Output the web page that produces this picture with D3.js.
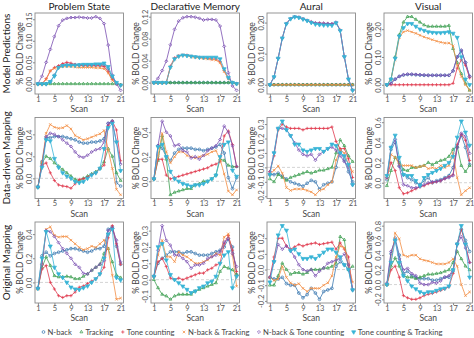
<!DOCTYPE html>
<html>
<head>
<meta charset="utf-8">
<script src="https://cdn.jsdelivr.net/npm/d3@7"></script>
<style>
  body { margin: 0; background: #fff; }
  svg { display: block; font-family: Lato, 'Open Sans', sans-serif; }
</style>
</head>
<body>
<div id="chart"></div>
<script>
var scans = d3.range(1, 22)
var xTicks = [1, 5, 9, 13, 17, 21]

var seriesNames = [
  'N-back',
  'Tracking',
  'Tone counting',
  'N-back & Tracking',
  'N-back & Tone counting',
  'Tone counting & Tracking'
]
var seriesColors = ['#3b78b0', '#3d9f52', '#e03a4e', '#f38d42', '#7a4fb1', '#38b4d6']

var resources = ['Problem State', 'Declarative Memory', 'Aural', 'Visual']
var mappings = ['Model Predictions', 'Data-driven Mapping', 'Original Mapping']

// every panel: one row per series, in seriesNames order, scans 1..21
var modelProblemState = [
  [0, 0, 0, 0.005, 0.02, 0.04, 0.043, 0.044, 0.044, 0.044, 0.044, 0.044, 0.044, 0.044, 0.044, 0.044, 0.044, 0.035, 0.015, 0.002, -0.003],
  [0, 0, 0, 0, 0, 0, 0, 0, 0, 0, 0, 0, 0, 0, 0, 0, 0, 0, 0, 0, -0.002],
  [0, 0, 0.012, 0.03, 0.038, 0.042, 0.047, 0.05, 0.048, 0.045, 0.043, 0.042, 0.042, 0.042, 0.042, 0.042, 0.04, 0.028, 0.01, 0, -0.003],
  [0, 0, 0.01, 0.03, 0.036, 0.038, 0.04, 0.04, 0.04, 0.039, 0.038, 0.038, 0.038, 0.038, 0.037, 0.037, 0.035, 0.025, 0.008, 0, -0.003],
  [0, 0.018, 0.05, 0.08, 0.11, 0.135, 0.148, 0.152, 0.154, 0.154, 0.155, 0.154, 0.153, 0.153, 0.156, 0.152, 0.14, 0.09, 0.02, 0, -0.015],
  [0, 0, 0, 0.005, 0.018, 0.038, 0.042, 0.043, 0.043, 0.043, 0.044, 0.045, 0.045, 0.045, 0.046, 0.046, 0.048, 0.04, 0.018, 0.003, -0.003]
]
var modelDeclarative = [
  [0, 0, 0, 0, 0, 0, 0, 0, 0, 0, 0, 0, 0, 0, 0, 0, 0, 0, 0, 0, -0.002],
  [0, 0, 0, 0, 0, 0, 0, 0, 0, 0, 0, 0, 0, 0, 0, 0, 0, 0, 0, 0, -0.002],
  [0, 0, 0, 0, 0.03, 0.045, 0.049, 0.05, 0.05, 0.048, 0.047, 0.046, 0.045, 0.044, 0.043, 0.043, 0.038, 0.022, 0.008, 0, -0.002],
  [0, 0, 0, 0, 0.028, 0.043, 0.048, 0.05, 0.049, 0.047, 0.046, 0.045, 0.044, 0.043, 0.042, 0.041, 0.036, 0.02, 0.007, 0, -0.002],
  [0, 0.008, 0.022, 0.039, 0.069, 0.097, 0.112, 0.118, 0.12, 0.12, 0.119, 0.117, 0.114, 0.115, 0.115, 0.114, 0.103, 0.066, 0.018, -0.006, -0.014],
  [0, 0, 0, 0, 0.028, 0.043, 0.048, 0.05, 0.049, 0.048, 0.047, 0.046, 0.046, 0.046, 0.046, 0.046, 0.043, 0.025, 0.009, 0, -0.002]
]
var modelAural = [
  [0, 0, 0, 0, 0, 0, 0, 0, 0, 0, 0, 0, 0, 0, 0, 0, 0, 0, 0, 0, 0],
  [0, 0, 0, 0, 0, 0, 0, 0, 0, 0, 0, 0, 0, 0, 0, 0, 0, 0, 0, 0, 0],
  [0, 0.025, 0.085, 0.15, 0.197, 0.213, 0.219, 0.217, 0.212, 0.207, 0.202, 0.198, 0.198, 0.197, 0.197, 0.196, 0.2, 0.175, 0.09, 0.018, -0.018],
  [0, 0, 0, 0, 0, 0, 0, 0, 0, 0, 0, 0, 0, 0, 0, 0, 0, 0, 0, 0, 0],
  [0, 0.025, 0.085, 0.15, 0.197, 0.213, 0.219, 0.217, 0.212, 0.207, 0.202, 0.199, 0.198, 0.198, 0.197, 0.196, 0.201, 0.175, 0.09, 0.018, -0.018],
  [0, 0.025, 0.085, 0.15, 0.196, 0.212, 0.218, 0.216, 0.211, 0.206, 0.2, 0.195, 0.193, 0.192, 0.192, 0.191, 0.199, 0.174, 0.09, 0.018, -0.018]
]
var modelVisual = [
  [0, 0.005, 0.02, 0.03, 0.035, 0.037, 0.037, 0.036, 0.035, 0.034, 0.034, 0.034, 0.034, 0.034, 0.034, 0.034, 0.05, 0.1, 0.122, 0.08, 0.03],
  [0, 0.02, 0.1, 0.18, 0.225, 0.245, 0.245, 0.235, 0.225, 0.215, 0.21, 0.21, 0.21, 0.21, 0.21, 0.213, 0.13, 0.08, 0.04, 0.005, -0.02],
  [0, 0, 0, 0, 0, 0, 0, 0, 0, 0, 0, 0, 0, 0, 0, 0, 0.005, 0.06, 0.09, 0.07, 0.025],
  [0, 0.02, 0.09, 0.17, 0.19, 0.195, 0.19, 0.185, 0.178, 0.172, 0.167, 0.162, 0.157, 0.153, 0.15, 0.15, 0.14, 0.07, 0.03, 0, -0.02],
  [0, 0.005, 0.02, 0.03, 0.036, 0.038, 0.038, 0.037, 0.036, 0.035, 0.034, 0.034, 0.034, 0.034, 0.034, 0.034, 0.05, 0.1, 0.125, 0.08, 0.03],
  [0, 0.02, 0.095, 0.175, 0.205, 0.22, 0.22, 0.21, 0.2, 0.195, 0.19, 0.188, 0.187, 0.187, 0.188, 0.19, 0.185, 0.17, 0.1, 0.02, 0]
]

var dataProblemState = [
  [-0.08, 0.15, 0.37, 0.37, 0.38, 0.38, 0.38, 0.37, 0.36, 0.35, 0.33, 0.32, 0.32, 0.33, 0.33, 0.34, 0.36, 0.5, 0.52, -0.04, -0.07],
  [-0.08, 0.14, 0.2, 0.18, 0.14, 0.11, 0.08, 0.05, 0.02, -0.01, -0.02, 0, 0.02, 0.04, 0.06, 0.09, 0.15, 0.27, 0.2, 0.05, -0.02],
  [-0.08, 0.12, 0.14, 0.05, -0.02, -0.06, -0.07, -0.075, -0.09, -0.05, -0.01, -0.003, 0.01, 0.035, 0.05, 0.09, 0.12, 0.48, 0.52, 0.44, 0.16],
  [-0.08, 0.15, 0.41, 0.49, 0.465, 0.455, 0.46, 0.48, 0.45, 0.39, 0.37, 0.35, 0.36, 0.375, 0.39, 0.405, 0.435, 0.26, 0.09, -0.1, -0.15],
  [-0.08, 0.12, 0.38, 0.41, 0.4, 0.38, 0.35, 0.32, 0.29, 0.24, 0.2, 0.19, 0.21, 0.24, 0.26, 0.27, 0.33, 0.5, 0.52, 0.33, 0.13],
  [-0.08, 0.1, 0.35, 0.34, 0.18, 0.1, 0.05, 0.02, 0, -0.03, -0.04, -0.03, 0, 0.03, 0.05, 0.09, 0.27, 0.46, 0.5, 0.33, 0.07]
]
var dataDeclarative = [
  [0.02, 0.29, 0.27, 0.2, 0.17, 0.23, 0.26, 0.27, 0.27, 0.27, 0.26, 0.26, 0.25, 0.26, 0.27, 0.28, 0.3, 0.23, 0.03, -0.06, 0.03],
  [0.02, 0.17, 0.37, 0.18, -0.11, -0.09, -0.08, -0.07, -0.06, -0.06, -0.03, -0.02, 0, 0, 0.02, 0.05, 0.18, 0.17, 0.13, 0.12, 0.12],
  [0.02, 0.18, 0.18, 0.05, 0.02, 0.03, 0.04, 0.05, 0.06, 0.07, 0.08, 0.09, 0.1, 0.11, 0.13, 0.14, 0.16, 0.37, 0.41, 0.3, 0.12],
  [0.02, 0.21, 0.39, 0.24, 0.15, 0.2, 0.24, 0.24, 0.21, 0.2, 0.19, 0.2, 0.21, 0.22, 0.24, 0.25, 0.18, 0.06, -0.08, -0.11, -0.07],
  [0.02, 0.29, 0.49, 0.4, 0.37, 0.29, 0.3, 0.25, 0.24, 0.19, 0.2, 0.18, 0.21, 0.25, 0.27, 0.29, 0.34, 0.45, 0.4, 0.29, 0.12],
  [0.02, 0.28, 0.3, 0.2, 0.08, 0.02, 0, -0.02, -0.03, -0.04, -0.03, -0.03, -0.02, 0, 0.02, 0.05, 0.2, 0.3, 0.32, 0.09, 0.04]
]
var dataAural = [
  [-0.05, -0.05, -0.04, -0.06, -0.08, -0.1, -0.11, -0.12, -0.13, -0.11, -0.09, -0.1, -0.15, -0.12, -0.11, -0.1, 0, 0.12, 0.05, -0.03, -0.1],
  [-0.08, -0.1, -0.05, -0.07, -0.09, -0.07, -0.06, -0.05, -0.04, -0.03, -0.04, -0.03, -0.02, -0.02, -0.01, 0, 0.1, 0.19, 0.15, 0.08, 0.04],
  [-0.03, 0.08, 0.26, 0.3, 0.28, 0.27, 0.27, 0.27, 0.26, 0.27, 0.27, 0.27, 0.27, 0.27, 0.27, 0.28, 0.18, 0.13, 0.13, 0.06, -0.07],
  [-0.05, -0.02, 0.01, -0.04, -0.14, -0.16, -0.15, -0.15, -0.15, -0.16, -0.17, -0.19, -0.16, -0.15, -0.12, -0.1, 0.05, 0.12, 0.1, 0.02, -0.03],
  [-0.03, 0.1, 0.27, 0.27, 0.26, 0.22, 0.17, 0.12, 0.09, 0.08, 0.09, 0.05, 0.09, 0.11, 0.13, 0.14, 0.12, 0.08, 0.04, 0, -0.12],
  [-0.05, 0.1, 0.27, 0.32, 0.26, 0.22, 0.16, 0.16, 0.12, 0.11, 0.12, 0.13, 0.13, 0.11, 0.13, 0.16, 0.15, 0.1, 0.08, 0.02, -0.12]
]
var dataVisual = [
  [0.03, 0.33, 0.4, 0.17, 0.08, 0.05, 0.03, 0, -0.02, 0.02, 0.05, 0, 0.02, 0.03, 0.05, 0.07, 0.15, 0.35, 0.47, 0.35, 0.18],
  [-0.03, 0.12, 0.25, 0.2, 0.13, 0.12, 0.15, 0.15, 0.16, 0.17, 0.2, 0.18, 0.2, 0.22, 0.23, 0.26, 0.33, 0.36, 0.17, 0.11, 0.17],
  [0.05, 0.2, 0.12, -0.05, -0.11, -0.1, -0.08, -0.06, -0.04, -0.03, -0.01, 0, 0.01, 0.02, 0.04, 0.06, 0.08, 0.38, 0.48, 0.42, 0.22],
  [0.05, 0.28, 0.25, 0.18, 0.17, 0.17, 0.17, 0.15, 0.16, 0.17, 0.14, 0.15, 0.14, 0.17, 0.15, 0.17, 0.3, 0.05, -0.12, -0.08, -0.05],
  [0.05, 0.35, 0.43, 0.16, -0.02, -0.03, -0.05, -0.05, -0.04, -0.02, 0, 0.01, 0.01, 0.02, 0.04, 0.05, 0.07, 0.35, 0.49, 0.46, 0.29],
  [0.07, 0.35, 0.47, 0.25, 0.08, 0.07, 0.07, 0.02, -0.03, 0.05, 0.08, 0.1, 0.12, 0.14, 0.17, 0.2, 0.26, 0.45, 0.61, 0.5, 0.37]
]

var origProblemState = [
  [-0.05, 0.22, 0.25, 0.22, 0.24, 0.25, 0.26, 0.27, 0.28, 0.28, 0.27, 0.26, 0.25, 0.26, 0.28, 0.28, 0.3, 0.44, 0.46, 0.3, 0.15],
  [-0.05, 0.125, 0.21, 0.14, 0.055, 0.045, 0.045, 0.05, 0.045, 0.03, 0.03, 0.05, 0.07, 0.1, 0.125, 0.15, 0.24, 0.28, 0.17, 0.06, 0.04],
  [-0.05, 0.11, 0.14, 0, -0.055, -0.11, -0.125, -0.11, -0.11, -0.08, -0.04, -0.03, -0.01, 0.01, 0.03, 0.07, 0.125, 0.37, 0.47, 0.32, 0.15],
  [-0.055, 0.15, 0.44, 0.46, 0.39, 0.375, 0.38, 0.38, 0.35, 0.32, 0.29, 0.27, 0.28, 0.3, 0.29, 0.32, 0.35, 0.28, 0.06, -0.14, -0.13],
  [-0.05, 0.15, 0.43, 0.42, 0.38, 0.33, 0.28, 0.24, 0.2, 0.15, 0.125, 0.075, 0.07, 0.1, 0.125, 0.15, 0.18, 0.43, 0.45, 0.35, 0.17],
  [-0.05, 0.2, 0.42, 0.3, 0.125, 0.07, 0.04, 0, -0.04, -0.055, -0.06, -0.045, -0.03, 0, 0.03, 0.07, 0.2, 0.4, 0.44, 0.04, 0.02]
]
var origDeclarative = [
  [0.02, 0.1, 0.13, 0.15, 0.17, 0.17, 0.17, 0.16, 0.17, 0.17, 0.16, 0.15, 0.15, 0.15, 0.16, 0.17, 0.18, 0.2, 0.25, 0.2, 0.03],
  [0, -0.05, -0.09, -0.1, -0.12, -0.1, -0.09, -0.09, -0.09, -0.09, -0.07, -0.06, -0.05, -0.04, -0.03, -0.02, 0.05, 0.08, 0.07, 0.06, 0.03],
  [0.02, 0.11, 0.13, 0.08, 0.01, 0, 0.01, 0, 0.01, 0.02, 0.03, 0.04, 0.04, 0.06, 0.07, 0.09, 0.1, 0.22, 0.27, 0.18, 0.05],
  [0.02, 0.15, 0.24, 0.14, 0.14, 0.11, 0.17, 0.15, 0.14, 0.12, 0.1, 0.1, 0.11, 0.12, 0.14, 0.16, 0.15, 0.26, 0.28, 0.15, -0.04],
  [0.02, 0.18, 0.33, 0.24, 0.21, 0.15, 0.15, 0.13, 0.11, 0.07, 0.09, 0.09, 0.1, 0.13, 0.14, 0.15, 0.17, 0.23, 0.25, 0.16, 0.08],
  [0.02, 0.2, 0.22, 0.12, 0.03, 0, -0.02, -0.04, -0.06, -0.08, -0.07, -0.05, -0.04, -0.02, -0.01, 0.02, 0.1, 0.15, 0.17, -0.05, 0.02]
]
var origAural = [
  [-0.05, -0.06, -0.06, -0.05, -0.09, -0.1, -0.1, -0.15, -0.18, -0.16, -0.12, -0.15, -0.19, -0.14, -0.13, -0.12, 0.02, 0.05, 0.03, 0, -0.13],
  [-0.1, -0.1, -0.04, 0.04, 0, -0.03, -0.02, -0.02, -0.03, -0.02, 0, 0, 0, 0.01, 0.01, 0.02, 0.04, 0.21, 0.19, 0, 0.02],
  [-0.05, 0.08, 0.2, 0.2, 0.15, 0.13, 0.145, 0.16, 0.15, 0.16, 0.165, 0.17, 0.16, 0.165, 0.17, 0.175, 0.13, 0.17, 0.13, 0.08, -0.13],
  [-0.05, -0.07, -0.06, 0.02, -0.05, -0.085, -0.1, -0.09, -0.12, -0.14, -0.12, -0.12, -0.12, -0.1, -0.085, -0.04, 0.08, 0.15, 0.14, 0.03, -0.08],
  [-0.05, 0.05, 0.16, 0.13, 0.15, 0.12, 0.08, 0.03, 0, -0.01, 0, -0.04, -0.01, 0.01, 0.04, 0.05, 0.06, 0.07, 0.1, 0.03, -0.13],
  [-0.08, 0.05, 0.22, 0.28, 0.25, 0.12, 0.13, 0.1, 0.07, 0.07, 0.08, 0.07, 0.09, 0.11, 0.13, 0.13, 0.11, 0.08, 0.03, 0, -0.13]
]
var origVisual = [
  [0, 0.42, 0.63, 0.4, 0.15, 0.18, 0.12, 0.1, 0.08, 0.08, 0.08, 0.06, 0.06, 0.08, 0.1, 0.1, 0.18, 0.55, 0.75, 0.6, 0.45],
  [0, 0.25, 0.36, 0.25, 0.12, 0.1, 0.1, 0.08, 0.1, 0.12, 0.14, 0.14, 0.15, 0.16, 0.18, 0.2, 0.3, 0.45, 0.35, 0.25, 0.2],
  [0, 0.2, 0.25, 0.1, -0.15, -0.18, -0.2, -0.2, -0.18, -0.15, -0.13, -0.12, -0.1, -0.08, -0.06, -0.03, 0.15, 0.55, 0.75, 0.55, 0.3],
  [0, 0.3, 0.7, 0.62, 0.4, 0.38, 0.4, 0.4, 0.35, 0.33, 0.32, 0.3, 0.28, 0.28, 0.28, 0.3, 0.35, 0.25, 0, -0.15, -0.1],
  [0.02, 0.45, 0.6, 0.35, 0.2, 0.22, 0.15, 0.12, 0.02, 0, 0, 0.03, 0.02, 0.05, 0.1, 0.12, 0.2, 0.55, 0.65, 0.5, 0.3],
  [0, 0.3, 0.6, 0.3, 0.12, 0.05, -0.02, -0.06, -0.1, -0.12, -0.1, -0.1, -0.08, -0.06, -0.05, -0.02, 0.2, 0.55, 0.8, 0.55, 0.1]
]

var yTicks = [
  [[0, 0.05, 0.1, 0.15], [0, 0.04, 0.08, 0.12], [0, 0.1, 0.2], [0, 0.1, 0.2]],
  [[0, 0.2, 0.4], [0, 0.2, 0.4], [-0.2, -0.1, 0, 0.1, 0.2, 0.3], [0, 0.2, 0.4, 0.6]],
  [[0, 0.2, 0.4], [-0.1, 0, 0.1, 0.2, 0.3], [-0.2, -0.1, 0, 0.1, 0.2], [-0.2, 0, 0.2, 0.4, 0.6, 0.8]]
]
var yFormats = ['.2f', '.1f', '.1f']

var panels = [
  [modelProblemState, modelDeclarative, modelAural, modelVisual],
  [dataProblemState, dataDeclarative, dataAural, dataVisual],
  [origProblemState, origDeclarative, origAural, origVisual]
]

var width = 474
var height = 338
var colLeft = [35, 151, 267, 384]
var rowTop = [13, 117.5, 222]
var panelW = 88.5
var panelH = 81

var svg = d3
  .select('#chart')
  .append('svg')
  .attr('width', width)
  .attr('height', height)

var symbolTypes = [
  d3.symbolCircle,
  d3.symbolTriangle2 || d3.symbolTriangle,
  d3.symbolPlus || d3.symbolCross,
  d3.symbolTimes || d3.symbolCross,
  d3.symbolDiamond2 || d3.symbolDiamond,
  d3.symbolTriangle
]
var symbolFilled = [false, false, false, false, false, true]
var symbolSizes = [6, 6, 4, 5, 6, 7]

function drawMarker(sel, i) {
  sel
    .attr('d', d3.symbol().type(symbolTypes[i]).size(symbolSizes[i]))
    .attr('fill', symbolFilled[i] ? seriesColors[i] : 'none')
    .attr('stroke', seriesColors[i])
    .attr('stroke-width', 0.75)
}

var xScale = d3
  .scaleLinear()
  .domain([0.3, 21.7])
  .range([0, panelW])

var minus = function(s) {
  return s.replace('\u2212', '-')
}

panels.forEach(function(row, r) {
  row.forEach(function(panel, c) {
    var g = svg
      .append('g')
      .attr('transform', 'translate(' + colLeft[c] + ',' + rowTop[r] + ')')

    var all = d3.merge(panel)
    var lo = d3.min(all)
    var hi = d3.max(all)
    var pad = (hi - lo) * 0.05

    var yScale = d3
      .scaleLinear()
      .domain([lo - pad, hi + pad])
      .range([panelH, 0])

    // dashed zero reference for the fitted mappings
    if (r > 0) {
      g.append('line')
        .attr('x1', 0)
        .attr('x2', panelW)
        .attr('y1', yScale(0))
        .attr('y2', yScale(0))
        .attr('stroke', '#cfcfcf')
        .attr('stroke-width', 0.9)
        .attr('stroke-dasharray', '3,2')
    }

    var line = d3
      .line()
      .x(function(d, i) {
        return xScale(scans[i])
      })
      .y(function(d) {
        return yScale(d)
      })

    panel.forEach(function(values, s) {
      g.append('path')
        .datum(values)
        .attr('d', line)
        .attr('fill', 'none')
        .attr('stroke', seriesColors[s])
        .attr('stroke-width', 0.8)

      g.selectAll('.pt-' + s)
        .data(values)
        .enter()
        .append('path')
        .attr('class', 'pt-' + s)
        .attr('transform', function(d, i) {
          var rot = s === 5 ? ' rotate(180)' : ''
          return 'translate(' + xScale(scans[i]) + ',' + yScale(d) + ')' + rot
        })
        .call(drawMarker, s)
    })

    // panel frame
    g.append('rect')
      .attr('width', panelW)
      .attr('height', panelH)
      .attr('fill', 'none')
      .attr('stroke', '#8a8a8a')
      .attr('stroke-width', 0.9)

    var xAxis = g
      .append('g')
      .attr('transform', 'translate(0,' + panelH + ')')
      .call(
        d3
          .axisBottom(xScale)
          .tickValues(xTicks)
          .tickSize(2)
          .tickPadding(0.5)
      )
      .attr('font-family', null)
      .attr('font-size', null)
    xAxis.select('.domain').remove()
    xAxis.selectAll('line').attr('stroke', '#8a8a8a')
    xAxis
      .selectAll('text')
      .attr('fill', '#555')
      .attr('font-size', 7.5)

    var fmt = d3.format(yFormats[r])
    var yAxis = g
      .append('g')
      .call(
        d3
          .axisLeft(yScale)
          .tickValues(yTicks[r][c])
          .tickSize(2)
          .tickFormat(function(d) {
            return minus(fmt(d))
          })
      )
      .attr('font-family', null)
      .attr('font-size', null)
    yAxis.select('.domain').remove()
    yAxis.selectAll('line').attr('stroke', '#8a8a8a')
    yAxis
      .selectAll('text')
      .attr('fill', '#555')
      .attr('font-size', 7.5)
      .attr('x', null)
      .attr('dy', null)
      .attr('text-anchor', 'middle')
      .attr('transform', 'translate(-3.5,0) rotate(-90)')

    g.append('text')
      .attr('transform', 'translate(-12.5,' + panelH / 2 + ') rotate(-90)')
      .attr('text-anchor', 'middle')
      .attr('font-size', 8.5)
      .attr('fill', '#444')
      .text('% BOLD Change')

    g.append('text')
      .attr('x', panelW / 2)
      .attr('y', panelH + 18)
      .attr('text-anchor', 'middle')
      .attr('font-size', 8.5)
      .attr('fill', '#444')
      .text('Scan')

    if (r === 0) {
      g.append('text')
        .attr('x', panelW / 2)
        .attr('y', -3.5)
        .attr('text-anchor', 'middle')
        .attr('font-size', 10)
        .attr('fill', '#222')
        .text(resources[c])
    }
  })

  svg
    .append('text')
    .attr('transform', 'translate(10,' + (rowTop[r] + panelH / 2) + ') rotate(-90)')
    .attr('text-anchor', 'middle')
    .attr('font-size', 10)
    .attr('fill', '#222')
    .text(mappings[r])
})

// legend row along the bottom, spread between x = 42 and x = 443
var legendLeft = 42
var legendRight = 443
var markerRoom = 5.5
var itemGap = 8

var legend = svg.append('g').attr('transform', 'translate(' + legendLeft + ',332)')
var items = legend
  .selectAll('.legend-item')
  .data(seriesNames)
  .enter()
  .append('g')
  .attr('class', 'legend-item')

items
  .append('path')
  .attr('transform', function(d, i) {
    return 'translate(1.5,0)' + (i === 5 ? ' rotate(180)' : '')
  })
  .each(function(d, i) {
    d3.select(this).call(drawMarker, i)
  })

var labels = items
  .append('text')
  .attr('x', markerRoom)
  .attr('dy', '0.35em')
  .attr('font-size', 10)
  .attr('fill', '#444')
  .text(d => d)

// size the labels so the whole row fills the legend span
var textTotal = d3.sum(labels.nodes(), n => n.getComputedTextLength())
var fixed = seriesNames.length * markerRoom + (seriesNames.length - 1) * itemGap
var legendSize = (10 * (legendRight - legendLeft - fixed)) / textTotal
labels.attr('font-size', legendSize)

var cursor = 0
items.each(function(d, i) {
  d3.select(this).attr('transform', 'translate(' + cursor + ',0)')
  cursor += markerRoom + labels.nodes()[i].getComputedTextLength() + itemGap
})
</script>
</body>
</html>
